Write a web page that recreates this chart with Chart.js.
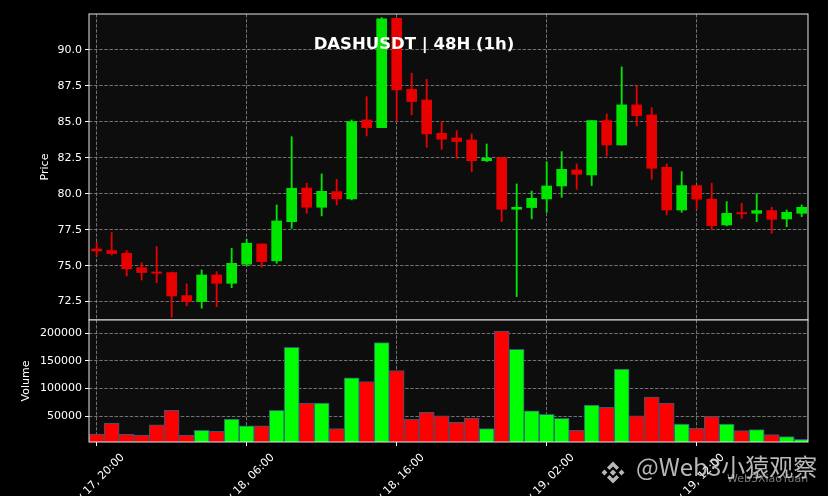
<!DOCTYPE html>
<html>
<head>
<meta charset="utf-8">
<script src="https://cdn.jsdelivr.net/npm/chart.js@4.4.1/dist/chart.umd.min.js"></script>
<style>
    html, body { margin: 0; padding: 0; background: #000; }
    #wrap { position: relative; width: 828px; height: 496px; overflow: hidden; background: #000; }
    #priceBox { position: absolute; left: 0; top: 0; width: 828px; height: 321px; }
    #volBox { position: absolute; left: 0; top: 319px; width: 828px; height: 177px; }
    #wmLogo { position: absolute; left: 600px; top: 460px; width: 26px; height: 25px; }
    #wmBig { position: absolute; left: 636px; top: 454px; font: 24px "Noto Sans CJK SC", sans-serif; line-height: 1; color: rgba(215, 215, 215, 0.85); white-space: nowrap; }
    #wmSmall { position: absolute; left: 727px; top: 473px; font: 11px "DejaVu Sans", sans-serif; line-height: 1; color: rgba(150, 150, 150, 0.8); white-space: nowrap; }
</style>
</head>
<body>
<div id="wrap">
    <div id="priceBox"><canvas id="priceChart"></canvas></div>
    <div id="volBox"><canvas id="volChart"></canvas></div>
    <span id="wmSmall">Web3XiaoYuan</span>
    <svg id="wmLogo" viewBox="0 0 24 24">
        <g fill="rgba(215,215,215,0.85)">
            <path d="M12 1.5 L17.8 7.3 L15.4 9.7 L12 6.3 L8.6 9.7 L6.2 7.3 Z"/>
            <path d="M12 22.5 L17.8 16.7 L15.4 14.3 L12 17.7 L8.6 14.3 L6.2 16.7 Z"/>
            <path d="M12 9 L15 12 L12 15 L9 12 Z"/>
            <path d="M3.8 9.2 L6.6 12 L3.8 14.8 L1 12 Z"/>
            <path d="M20.2 9.2 L23 12 L20.2 14.8 L17.4 12 Z"/>
        </g>
    </svg>
    <span id="wmBig">@Web3小猿观察</span>
</div>
<script>
// 48 hourly candles, Nov 17 20:00 -> Nov 19 19:00
const opens  = [76.16, 76.05, 75.86, 74.86, 74.56, 74.52, 72.92, 72.50, 74.35, 73.77,
                75.10, 76.51, 75.33, 78.06, 80.40, 79.06, 80.15, 79.64, 85.13, 84.60,
                92.20, 87.26, 86.52, 84.20, 83.88, 83.74, 82.30, 82.51, 78.92, 79.04,
                79.64, 80.54, 81.66, 81.31, 85.09, 83.39, 86.18, 85.48, 81.84, 78.87,
                80.57, 79.62, 77.83, 78.69, 78.64, 78.83, 78.25, 78.64];
const highs  = [76.63, 77.30, 76.05, 75.21, 76.32, 74.55, 73.73, 74.70, 74.58, 76.21,
                76.83, 76.51, 79.22, 83.97, 80.73, 81.38, 81.00, 85.13, 86.75, 92.25,
                92.25, 88.38, 87.96, 85.02, 84.39, 84.16, 83.46, 82.51, 80.68, 80.19,
                82.23, 82.93, 82.07, 85.09, 85.55, 88.82, 87.52, 85.99, 82.07, 81.54,
                80.57, 80.73, 79.45, 79.34, 79.99, 79.06, 78.87, 79.22];
const lows   = [75.67, 75.74, 74.28, 74.00, 73.82, 71.41, 72.20, 72.04, 72.15, 73.47,
                75.00, 74.89, 75.16, 77.60, 78.64, 78.46, 79.22, 79.57, 84.02, 84.60,
                85.02, 85.48, 83.23, 83.09, 82.47, 81.54, 82.23, 78.06, 72.85, 78.25,
                78.71, 79.75, 80.31, 80.57, 82.63, 83.39, 84.71, 81.00, 78.53, 78.71,
                78.92, 77.48, 77.76, 78.29, 78.06, 77.25, 77.71, 78.41];
const closes = [76.02, 75.84, 74.77, 74.52, 74.47, 72.89, 72.50, 74.35, 73.77, 75.16,
                76.56, 75.28, 78.11, 80.38, 79.06, 80.17, 79.64, 85.02, 84.60, 92.16,
                87.22, 86.41, 84.16, 83.79, 83.63, 82.30, 82.47, 78.92, 79.06, 79.68,
                80.54, 81.70, 81.35, 85.09, 83.39, 86.18, 85.43, 81.77, 78.87, 80.57,
                79.62, 77.78, 78.64, 78.60, 78.83, 78.22, 78.71, 79.06];
const volumes = [17470, 37350, 16870, 15660, 34340, 60240, 15660, 24100, 22300, 44580,
                 32530, 32530, 60240, 174700, 73490, 73490, 27110, 119280, 112650, 183130,
                 132530, 44580, 56630, 50600, 38550, 46390, 27110, 204200, 171080, 59640,
                 53010, 45780, 24100, 69880, 65660, 134940, 50600, 84340, 73490, 35540,
                 27710, 49400, 35540, 23490, 25300, 16270, 12650, 7830];

const tickIdx = [0, 10, 20, 30, 40];
const tickLabels = ["Nov 17, 20:00", "Nov 18, 06:00", "Nov 18, 16:00", "Nov 19, 02:00", "Nov 19, 12:00"];
const priceTicks = [72.5, 75.0, 77.5, 80.0, 82.5, 85.0, 87.5, 90.0];
const volumeTicks = [50000, 100000, 150000, 200000];

const upColor = "#00e600";
const downColor = "#e60000";
const volUp = "#00ff00";
const volDown = "#ff0000";
const gridColor = "#8c8c8c";
const gridDash = [3.5, 1.6];
const fontFam = "'DejaVu Sans', sans-serif";

const isUp = (i) => closes[i] >= opens[i];

// dark panel background + white frame round the plot area
const panelFrame = {
    id: "panelFrame",
    beforeDraw(chart) {
        const { ctx, chartArea: a } = chart;
        ctx.save();
        ctx.fillStyle = "#0d0d0d";
        ctx.fillRect(a.left, a.top, a.right - a.left, a.bottom - a.top);
        ctx.restore();
    },
    afterDraw(chart) {
        const { ctx, chartArea: a } = chart;
        ctx.save();
        ctx.strokeStyle = "#e6e6e6";
        ctx.lineWidth = 1;
        ctx.strokeRect(a.left, a.top, a.right - a.left, a.bottom - a.top);
        const t = chart.options.plugins.panelFrame;
        if (t && t.text) {
            ctx.fillStyle = "#ffffff";
            ctx.font = "bold 16.5px " + fontFam;
            ctx.textAlign = "center";
            ctx.textBaseline = "middle";
            ctx.fillText(t.text, t.x, t.y);
        }
        ctx.restore();
    }
};

function xScale(showTicks) {
    return {
        type: "linear",
        min: -0.51,
        max: 47.42,
        offset: false,
        afterBuildTicks: (s) => { s.ticks = tickIdx.map(v => ({ value: v })); },
        afterFit: (s) => {
            s.height = showTicks ? 54 : 0;
            s.paddingLeft = 0;
            s.paddingRight = 0;
        },
        ticks: {
            display: showTicks,
            autoSkip: false,
            maxRotation: 45,
            minRotation: 45,
            labelOffset: 26,
            padding: 5,
            color: "#ffffff",
            font: { family: fontFam, size: 11 },
            callback: (v) => tickLabels[tickIdx.indexOf(v)]
        },
        grid: { offset: false, color: gridColor, lineWidth: 0.8, drawTicks: showTicks, tickLength: 4, tickColor: "#ffffff", tickWidth: 1, tickBorderDash: [] },
        border: { display: false, dash: gridDash }
    };
}

function yScale(min, max, tickVals, fmt, title, titlePad) {
    return {
        min: min,
        max: max,
        afterBuildTicks: (s) => { s.ticks = tickVals.map(v => ({ value: v })); },
        afterFit: (s) => {
            s.width = 89;
            s.paddingTop = 0;
            s.paddingBottom = 0;
        },
        ticks: {
            color: "#ffffff",
            padding: 3,
            font: { family: fontFam, size: 11 },
            callback: fmt
        },
        grid: { color: gridColor, lineWidth: 0.8, tickLength: 4, tickColor: "#ffffff", tickWidth: 1, tickBorderDash: [] },
        border: { display: false, dash: gridDash },
        title: {
            display: true,
            text: title,
            color: "#ffffff",
            font: { family: fontFam, size: 11 },
            padding: { top: titlePad, bottom: 0 }
        }
    };
}

const idx = opens.map((_, i) => i);

new Chart(document.getElementById("priceChart"), {
    type: "bar",
    data: {
        datasets: [{
            label: "body",
            data: idx.map(i => ({ x: i, y: [opens[i], closes[i]] })),
            backgroundColor: (c) => isUp(c.dataIndex) ? upColor : downColor,
            barThickness: 10,
            grouped: false,
            order: 1
        }, {
            label: "wick",
            data: idx.map(i => ({ x: i, y: [lows[i], highs[i]] })),
            backgroundColor: (c) => isUp(c.dataIndex) ? upColor : downColor,
            barThickness: 1.2,
            grouped: false,
            order: 2
        }]
    },
    options: {
        responsive: true,
        maintainAspectRatio: false,
        animation: false,
        layout: { padding: { left: 0, right: 20, top: 14, bottom: 1 } },
        plugins: {
            legend: { display: false },
            tooltip: { enabled: false },
            panelFrame: { text: "DASHUSDT | 48H (1h)", x: 414, y: 45 }
        },
        scales: {
            x: xScale(false),
            y: yScale(71.22, 92.5, priceTicks, (v) => v.toFixed(1), "Price", 39)
        }
    },
    plugins: [panelFrame]
});

new Chart(document.getElementById("volChart"), {
    type: "bar",
    data: {
        datasets: [{
            label: "volume",
            data: idx.map(i => ({ x: i, y: volumes[i] })),
            backgroundColor: (c) => isUp(c.dataIndex) ? volUp : volDown,
            borderColor: "#2f5b78",
            borderWidth: 1,
            borderSkipped: false,
            barThickness: 15,
            grouped: false
        }]
    },
    options: {
        responsive: true,
        maintainAspectRatio: false,
        animation: false,
        layout: { padding: { left: 0, right: 20, top: 1, bottom: 0 } },
        plugins: {
            legend: { display: false },
            tooltip: { enabled: false },
            panelFrame: {}
        },
        scales: {
            x: xScale(true),
            y: yScale(3000, 224100, volumeTicks, (v) => String(v), "Volume", 20)
        }
    },
    plugins: [panelFrame]
});
</script>
</body>
</html>
